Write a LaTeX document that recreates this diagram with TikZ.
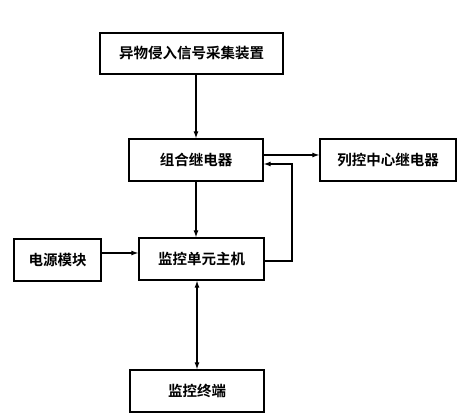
\documentclass[tikz,border=0pt]{standalone}
\usepackage{fontspec}
\newfontfamily\cjk{Noto Sans CJK SC Bold}
\usetikzlibrary{arrows.meta}
\begin{document}
\begin{tikzpicture}[x=1pt,y=-1pt,
  blk/.style={draw,line width=1.25pt,inner sep=0pt,font=\cjk\fontsize{14.5}{16}\selectfont},
  arr/.style={line width=1.1pt,-{Latex[length=7pt,width=5pt]}},
  darr/.style={line width=1.1pt,{Latex[length=7pt,width=5pt]}-{Latex[length=7pt,width=5pt]}}]
\useasboundingbox (0,0) rectangle (474,419);
\node[blk,minimum width=183pt,minimum height=41pt] (a) at (191.5,53.5) {异物侵入信号采集装置};
\node[blk,minimum width=134pt,minimum height=42pt] (b) at (196,160) {组合继电器};
\node[blk,minimum width=136pt,minimum height=42pt] (c) at (388,160) {列控中心继电器};
\node[blk,minimum width=125pt,minimum height=42pt] (d) at (201.5,259) {监控单元主机};
\node[blk,minimum width=87pt,minimum height=42pt] (e) at (57.5,260) {电源模块};
\node[blk,minimum width=134pt,minimum height=42pt] (f) at (197,391) {监控终端};
\draw[arr] (a.south -| b.north) -- (b.north);
\draw[arr] (b.south) -- (b.south |- d.north);
\draw[arr] ([yshift=5pt]b.east) -- ([yshift=5pt]b.east -| c.west);
\coordinate (k) at (292,261);
\draw[arr] (d.east |- k) -- (k) |- ([yshift=-4pt]b.east);
\draw[arr] ([yshift=7pt]e.east) -- ([yshift=7pt]e.east -| d.west);
\draw[darr] ([xshift=-4.5pt]d.south) -- ([xshift=-4.5pt]d.south |- f.north);
\end{tikzpicture}
\end{document}
